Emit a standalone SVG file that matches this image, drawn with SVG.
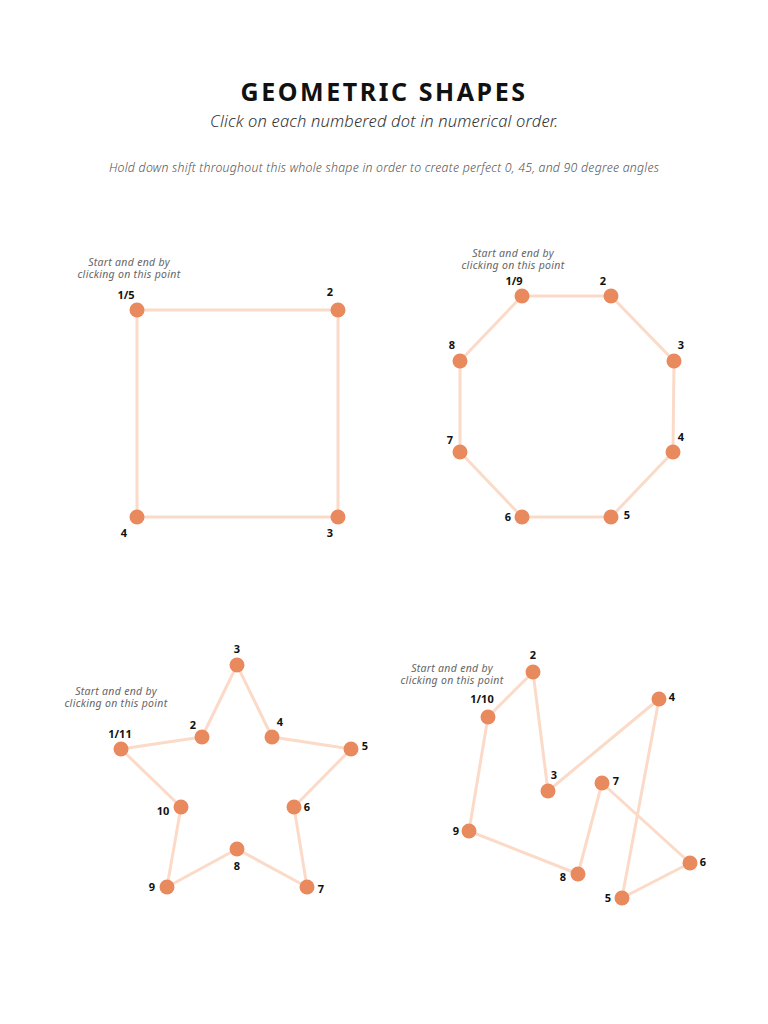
<svg xmlns="http://www.w3.org/2000/svg" width="768" height="1024" viewBox="0 0 768 1024">
<style>
.title{font-family:"Noto Sans","Open Sans",sans-serif;font-weight:700;font-size:25px;letter-spacing:2.5px;fill:#111;text-anchor:middle}
.sub{font-family:"Noto Sans","Open Sans",sans-serif;font-style:italic;font-weight:300;font-size:16.5px;fill:#333;text-anchor:middle}
.hint{font-family:"Noto Sans","Open Sans",sans-serif;font-style:italic;font-weight:300;font-size:12.3px;fill:#555;text-anchor:middle}
.note{font-family:"Noto Sans","Open Sans",sans-serif;font-style:italic;font-size:10.5px;letter-spacing:0.3px;fill:#666;text-anchor:middle}
.lbl{font-family:"Noto Sans","Open Sans",sans-serif;font-weight:700;font-size:11px;fill:#111;text-anchor:middle}
.edge{fill:none;stroke:#FBDAC8;stroke-width:3;stroke-linejoin:round}
.dot{fill:#E8895E}
</style>
<rect width="768" height="1024" fill="#fff"/>
<text class="title" x="384" y="101" textLength="287" lengthAdjust="spacing">GEOMETRIC SHAPES</text>
<text class="sub" x="384" y="127" textLength="348" lengthAdjust="spacing">Click on each numbered dot in numerical order.</text>
<text class="hint" x="384" y="172" textLength="550" lengthAdjust="spacing">Hold down shift throughout this whole shape in order to create perfect 0, 45, and 90 degree angles</text>

<g id="connectors">
<polygon class="edge" points="137,310 338,310 338,517 137,517"/>
<polygon class="edge" points="522,296 611,296 674,361 673,452 611,517 522,517 460,452 460,361"/>
<polygon class="edge" points="121,749 202,737 237,665 272,737 351,749 294,807 307,887 237,849 167,887 181,807"/>
<polygon class="edge" points="488,717 533,672 548,791 659,699 622,898 690,863 602,783 578,874 469,831"/>
</g>

<g id="square">
<text class="note" x="129" y="266">Start and end by</text>
<text class="note" x="129" y="278">clicking on this point</text>
<g id="sq1"><circle class="dot" cx="137" cy="310" r="7.5"/><text class="lbl" x="126" y="299">1/5</text></g>
<g id="sq2"><circle class="dot" cx="338" cy="310" r="7.5"/><text class="lbl" x="330" y="296">2</text></g>
<g id="sq3"><circle class="dot" cx="338" cy="517" r="7.5"/><text class="lbl" x="330" y="537">3</text></g>
<g id="sq4"><circle class="dot" cx="137" cy="517" r="7.5"/><text class="lbl" x="124" y="537">4</text></g>
</g>

<g id="octagon">
<text class="note" x="513" y="257">Start and end by</text>
<text class="note" x="513" y="269">clicking on this point</text>
<g id="oc1"><circle class="dot" cx="522" cy="296" r="7.5"/><text class="lbl" x="514" y="285">1/9</text></g>
<g id="oc2"><circle class="dot" cx="611" cy="296" r="7.5"/><text class="lbl" x="603" y="285">2</text></g>
<g id="oc3"><circle class="dot" cx="674" cy="361" r="7.5"/><text class="lbl" x="681" y="349">3</text></g>
<g id="oc4"><circle class="dot" cx="673" cy="452" r="7.5"/><text class="lbl" x="681" y="441">4</text></g>
<g id="oc5"><circle class="dot" cx="611" cy="517" r="7.5"/><text class="lbl" x="627" y="519">5</text></g>
<g id="oc6"><circle class="dot" cx="522" cy="517" r="7.5"/><text class="lbl" x="508" y="521">6</text></g>
<g id="oc7"><circle class="dot" cx="460" cy="452" r="7.5"/><text class="lbl" x="450" y="444">7</text></g>
<g id="oc8"><circle class="dot" cx="460" cy="361" r="7.5"/><text class="lbl" x="452" y="349">8</text></g>
</g>

<g id="star">
<text class="note" x="116" y="695">Start and end by</text>
<text class="note" x="116" y="707">clicking on this point</text>
<g id="st1"><circle class="dot" cx="121" cy="749" r="7.5"/><text class="lbl" x="120" y="738">1/11</text></g>
<g id="st2"><circle class="dot" cx="202" cy="737" r="7.5"/><text class="lbl" x="193" y="729">2</text></g>
<g id="st3"><circle class="dot" cx="237" cy="665" r="7.5"/><text class="lbl" x="237" y="653">3</text></g>
<g id="st4"><circle class="dot" cx="272" cy="737" r="7.5"/><text class="lbl" x="280" y="726">4</text></g>
<g id="st5"><circle class="dot" cx="351" cy="749" r="7.5"/><text class="lbl" x="365" y="750">5</text></g>
<g id="st6"><circle class="dot" cx="294" cy="807" r="7.5"/><text class="lbl" x="307" y="811">6</text></g>
<g id="st7"><circle class="dot" cx="307" cy="887" r="7.5"/><text class="lbl" x="321" y="893">7</text></g>
<g id="st8"><circle class="dot" cx="237" cy="849" r="7.5"/><text class="lbl" x="237" y="870">8</text></g>
<g id="st9"><circle class="dot" cx="167" cy="887" r="7.5"/><text class="lbl" x="152" y="891">9</text></g>
<g id="st10"><circle class="dot" cx="181" cy="807" r="7.5"/><text class="lbl" x="163" y="815">10</text></g>
</g>

<g id="freeform">
<text class="note" x="452" y="672">Start and end by</text>
<text class="note" x="452" y="684">clicking on this point</text>
<g id="ff1"><circle class="dot" cx="488" cy="717" r="7.5"/><text class="lbl" x="482" y="703">1/10</text></g>
<g id="ff2"><circle class="dot" cx="533" cy="672" r="7.5"/><text class="lbl" x="533" y="659">2</text></g>
<g id="ff3"><circle class="dot" cx="548" cy="791" r="7.5"/><text class="lbl" x="554" y="779">3</text></g>
<g id="ff4"><circle class="dot" cx="659" cy="699" r="7.5"/><text class="lbl" x="672" y="701">4</text></g>
<g id="ff5"><circle class="dot" cx="622" cy="898" r="7.5"/><text class="lbl" x="608" y="902">5</text></g>
<g id="ff6"><circle class="dot" cx="690" cy="863" r="7.5"/><text class="lbl" x="703" y="866">6</text></g>
<g id="ff7"><circle class="dot" cx="602" cy="783" r="7.5"/><text class="lbl" x="616" y="785">7</text></g>
<g id="ff8"><circle class="dot" cx="578" cy="874" r="7.5"/><text class="lbl" x="563" y="881">8</text></g>
<g id="ff9"><circle class="dot" cx="469" cy="831" r="7.5"/><text class="lbl" x="456" y="835">9</text></g>
</g>
</svg>
